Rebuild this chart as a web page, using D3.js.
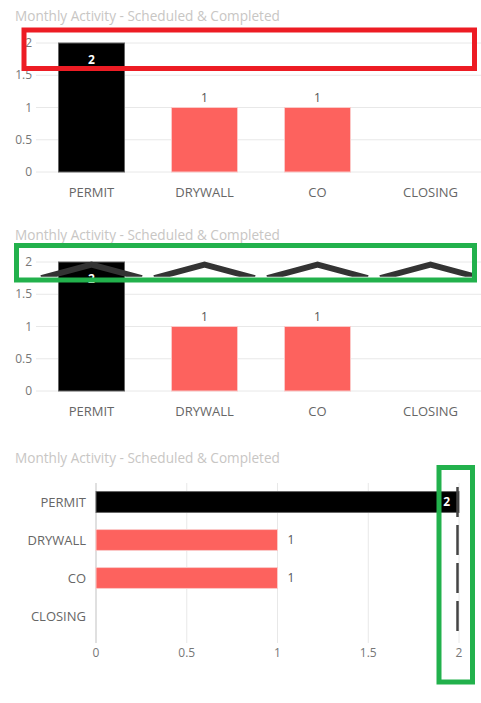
<!DOCTYPE html>
<html>
<head>
<meta charset="utf-8">
<script src="https://cdnjs.cloudflare.com/ajax/libs/d3/7.8.5/d3.min.js"></script>
<style>
  body { margin: 0; background: #fff; }
  svg { display: block; font-family: "Open Sans", "Noto Sans", sans-serif; }
</style>
</head>
<body>
<div id="chart"></div>
<script>
// chart data
var title = "Monthly Activity - Scheduled & Completed";
var categories = ["PERMIT", "DRYWALL", "CO", "CLOSING"];
var values = [2, 1, 1, 0];
var phases = ["Completed", "Scheduled", "Scheduled", "Scheduled"];
var targets = [2, 2, 2, 2];
var valueTicks = [0, 0.5, 1, 1.5, 2];

var width = 481,
	height = 703,
	GRID = "#e8e8e8",
	TICK_COLOR = "#777",
	CAT_COLOR = "#666",
	TITLE_COLOR = "#c8c6c4",
	TARGET_COLOR = "#333",
	TARGET_WIDTH = 6,
	TARGET_SLOPE = 0.27; // how far the target arms fall per px

var color = d3.scaleOrdinal()
	.domain(["Completed", "Scheduled"])
	.range(["#000000", "#fd625e"]);

var rows = categories.map(function(c, i) {
	return { cat: c, value: values[i], phase: phases[i], target: targets[i] };
});

var svg = d3.select("#chart").append("svg")
	.attr("width", width)
	.attr("height", height);

svg.append("rect").attr("width", width).attr("height", height).style("fill", "#fff");

// vertical column chart, drawn at a vertical offset
function columnChart(top, withTargets, id) {
	var g = svg.append("g").attr("transform", "translate(0," + top + ")");

	g.append("text")
		.attr("x", 15).attr("y", 21)
		.text(title)
		.style("fill", TITLE_COLOR)
		.style("font-size", "13.6px");

	var y = d3.scaleLinear().domain([0, 2]).range([172, 43]);
	var x = d3.scaleBand().domain(categories).range([35, 487]).paddingInner(0.416).paddingOuter(0.208);

	// gridlines + tick labels
	g.selectAll(".grid").data(valueTicks).enter().append("line")
		.attr("x1", 36).attr("x2", width)
		.attr("y1", function(d) { return y(d); })
		.attr("y2", function(d) { return y(d); })
		.style("stroke", GRID).style("stroke-width", 1);

	g.selectAll(".ytick").data(valueTicks).enter().append("text")
		.attr("x", 32)
		.attr("y", function(d) { return y(d); })
		.attr("dy", "0.35em")
		.text(function(d) { return d; })
		.style("fill", TICK_COLOR)
		.style("font-size", "12px")
		.style("text-anchor", "end");

	g.selectAll(".bar").data(rows.filter(function(d) { return d.value > 0; })).enter().append("rect")
		.attr("x", function(d) { return x(d.cat); })
		.attr("width", x.bandwidth())
		.attr("y", function(d) { return y(d.value); })
		.attr("height", function(d) { return y(0) - y(d.value); })
		.style("fill", function(d) { return color(d.phase); })
		.style("stroke", function(d) { return d.phase == "Completed" ? "#666" : "#fbc9c8"; })
		.style("stroke-width", 1);

	// value labels: inside when the bar hits the top, otherwise above
	g.selectAll(".val").data(rows.filter(function(d) { return d.value > 0; })).enter().append("text")
		.attr("x", function(d) { return x(d.cat) + x.bandwidth() / 2; })
		.attr("y", function(d) { return d.value >= 2 ? y(d.value) + 21 : y(d.value) - 6; })
		.text(function(d) { return d.value; })
		.style("fill", function(d) { return d.value >= 2 ? "#fff" : "#555"; })
		.style("font-weight", function(d) { return d.value >= 2 ? "bold" : "normal"; })
		.style("font-size", "12px")
		.style("text-anchor", "middle");

	g.selectAll(".xtick").data(categories).enter().append("text")
		.attr("x", function(d) { return x(d) + x.bandwidth() / 2; })
		.attr("y", 197)
		.text(function(d) { return d; })
		.style("fill", CAT_COLOR)
		.style("font-size", "13px")
		.style("text-anchor", "middle");

	if (withTargets) {
		// the target marker gets cut flat a little under the 1.75 gridline level
		svg.append("clipPath").attr("id", id)
			.append("rect")
			.attr("x", 0).attr("y", 0)
			.attr("width", 476).attr("height", y(1.77));

		var line = d3.line();
		g.append("g").attr("clip-path", "url(#" + id + ")")
			.selectAll(".target").data(rows).enter().append("path")
			.attr("d", function(d) {
				var c = x(d.cat) + x.bandwidth() / 2,
					half = x.step() * 0.445,
					apex = y(d.target) + TARGET_WIDTH / 2 - 0.5,
					foot = apex + half * TARGET_SLOPE;
				return line([[c - half, foot], [c, apex], [c + half, foot]]);
			})
			.style("fill", "none")
			.style("stroke", TARGET_COLOR)
			.style("stroke-width", TARGET_WIDTH)
			.style("stroke-linejoin", "miter");
	}
	return { x: x, y: y, g: g };
}

columnChart(0, false, "clip1");
columnChart(219, true, "clip2");

// horizontal bar chart
var g3 = svg.append("g").attr("transform", "translate(0,442)");

g3.append("text")
	.attr("x", 15).attr("y", 21)
	.text(title)
	.style("fill", TITLE_COLOR)
	.style("font-size", "13.6px");

var hx = d3.scaleLinear().domain([0, 2]).range([96, 459]);
var hy = d3.scaleBand().domain(categories).range([41, 193]).paddingInner(0.45).paddingOuter(0.225);

g3.selectAll(".grid").data(valueTicks).enter().append("line")
	.attr("x1", function(d) { return hx(d); })
	.attr("x2", function(d) { return hx(d); })
	.attr("y1", 41).attr("y2", 201)
	.style("stroke", function(d) { return d == 0 ? "#e0e0e0" : GRID; })
	.style("stroke-width", function(d) { return d == 0 ? 2 : 1; });

g3.selectAll(".xtick").data(valueTicks).enter().append("text")
	.attr("x", function(d) { return hx(d); })
	.attr("y", 215)
	.text(function(d) { return d; })
	.style("fill", TICK_COLOR)
	.style("font-size", "12px")
	.style("text-anchor", "middle");

g3.selectAll(".ycat").data(categories).enter().append("text")
	.attr("x", 86)
	.attr("y", function(d) { return hy(d) + hy.bandwidth() / 2; })
	.attr("dy", "0.35em")
	.text(function(d) { return d; })
	.style("fill", CAT_COLOR)
	.style("font-size", "13px")
	.style("text-anchor", "end");

var hbars = rows.filter(function(d) { return d.value > 0; });

g3.selectAll(".bar").data(hbars).enter().append("rect")
	.attr("x", hx(0))
	.attr("y", function(d) { return hy(d.cat); })
	.attr("height", hy.bandwidth())
	.attr("width", function(d) { return hx(d.value) - hx(0); })
	.style("fill", function(d) { return color(d.phase); })
	.style("stroke", function(d) { return d.phase == "Completed" ? "#666" : "#fbc9c8"; })
	.style("stroke-width", 1);

g3.selectAll(".val").data(hbars).enter().append("text")
	.attr("x", function(d) { return d.value >= 2 ? hx(d.value) - 9 : hx(d.value) + 10; })
	.attr("y", function(d) { return hy(d.cat) + hy.bandwidth() / 2; })
	.attr("dy", "0.35em")
	.text(function(d) { return d.value; })
	.style("fill", function(d) { return d.value >= 2 ? "#fff" : "#555"; })
	.style("font-weight", function(d) { return d.value >= 2 ? "bold" : "normal"; })
	.style("font-size", "12px")
	.style("text-anchor", function(d) { return d.value >= 2 ? "end" : "start"; });

// target markers render as vertical dashes here
g3.selectAll(".target").data(rows).enter().append("line")
	.attr("x1", function(d) { return hx(d.target) - 1.5; })
	.attr("x2", function(d) { return hx(d.target) - 1.5; })
	.attr("y1", function(d) { return hy(d.cat) + hy.bandwidth() / 2 - 15; })
	.attr("y2", function(d) { return hy(d.cat) + hy.bandwidth() / 2 + 15; })
	.style("stroke", "#444")
	.style("stroke-width", 2.5);

// hand-drawn annotation boxes from the screenshot
var notes = svg.append("g");
notes.append("rect")
	.attr("x", 24).attr("y", 30).attr("width", 450.5).attr("height", 38.5)
	.style("fill", "none").style("stroke", "#ed1c24").style("stroke-width", 5);
notes.append("rect")
	.attr("x", 16.5).attr("y", 245.5).attr("width", 458).attr("height", 34.5)
	.style("fill", "none").style("stroke", "#22b14c").style("stroke-width", 5);
notes.append("rect")
	.attr("x", 439).attr("y", 467.5).attr("width", 33.5).attr("height", 214.5)
	.style("fill", "none").style("stroke", "#22b14c").style("stroke-width", 5);
</script>
</body>
</html>
